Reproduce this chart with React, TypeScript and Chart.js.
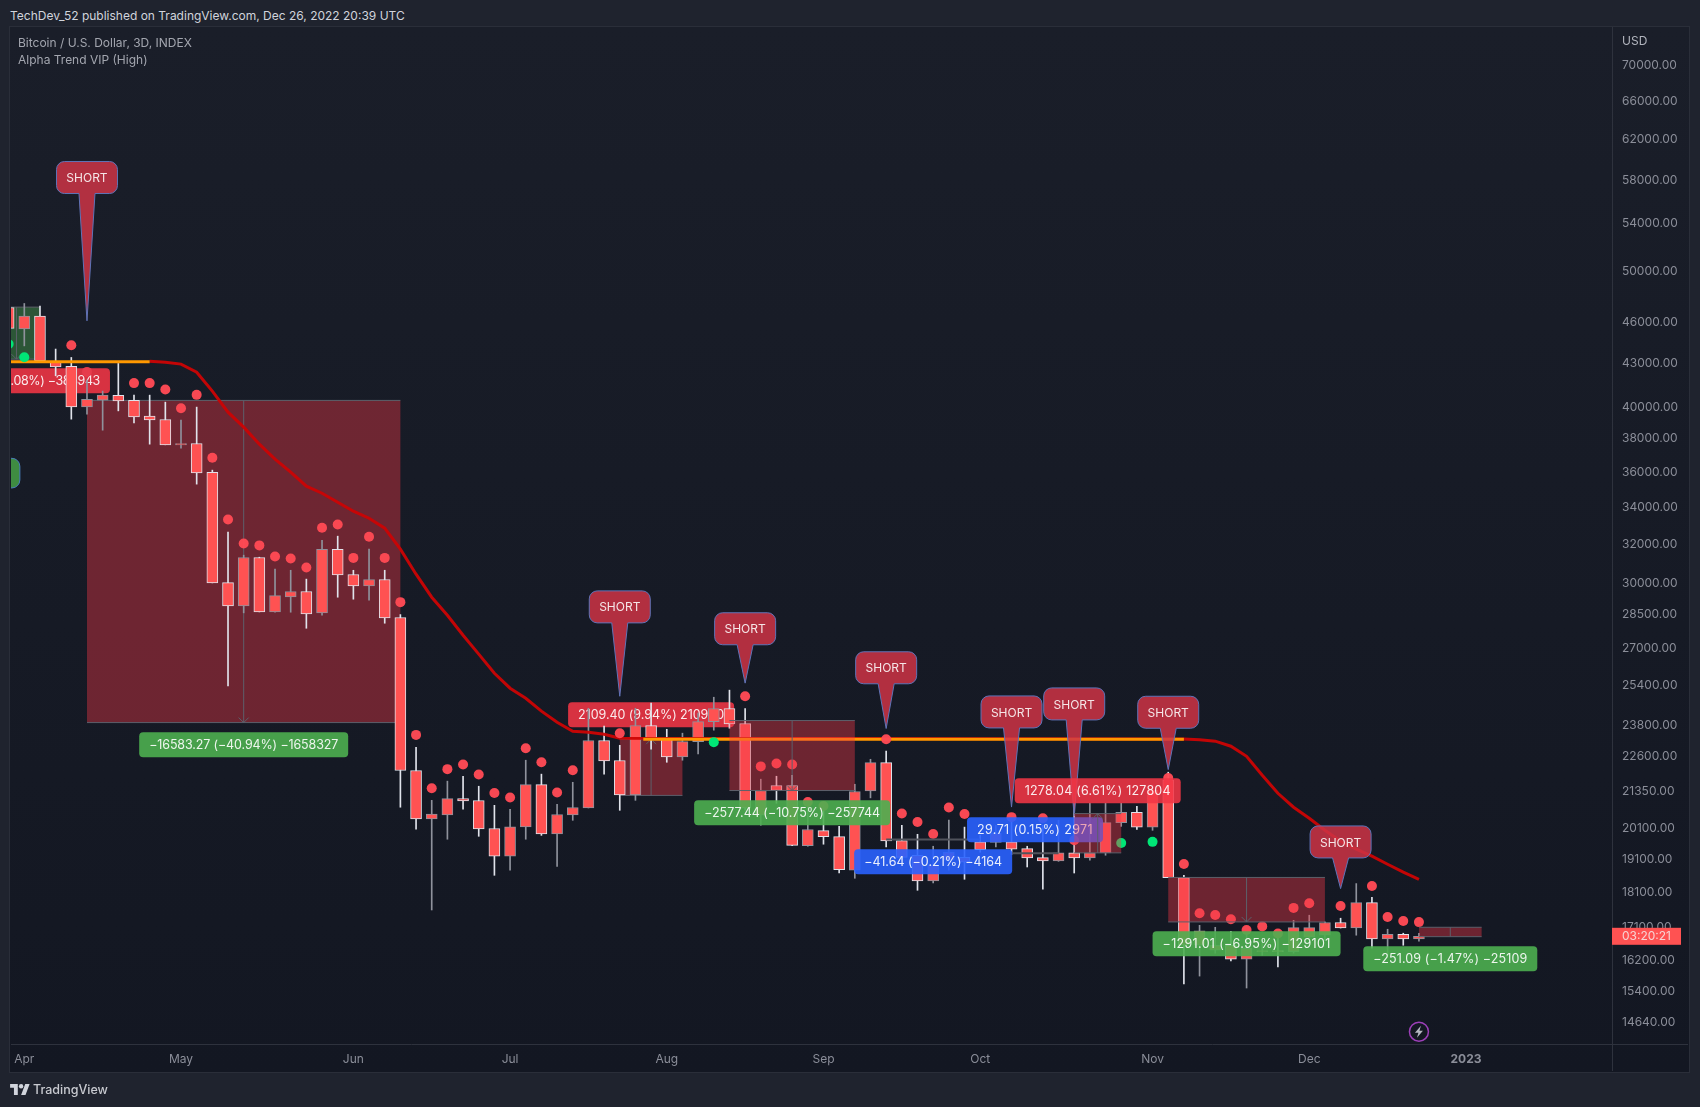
import React, { useEffect, useRef } from 'react';
import { Chart, registerables } from 'chart.js';

Chart.register(...registerables);
Chart.defaults.font.family = 'Inter, sans-serif';

// 3D candles, first one sits on bar -1 (cut by the left edge)
const firstBar = -1;
const opens = [47060, 45450, 46400, 43090, 42740, 40010, 40450, 40760, 40430, 39405, 39190, 37600, 37680, 35940, 30020, 28900, 31275, 28615, 29320, 29585, 28570, 31690, 30420, 29860, 30170, 28355, 22080, 20400, 20535, 21090, 21025, 20085, 19200, 20140, 21580, 19905, 20535, 20770, 23190, 22445, 21215, 23765, 23250, 22575, 23150, 23920, 24435, 23845, 20525, 21545, 21545, 19530, 20015, 19820, 18760, 21355, 22370, 19690, 19225, 18435, 19070, 19160, 19650, 19630, 19655, 19435, 19150, 19045, 19300, 19140, 19300, 20280, 20625, 20130, 21735, 18535, 16595, 16460, 16595, 16225, 16425, 16450, 16425, 16815, 16870, 17225, 17070, 17795, 16770, 16895, 16770];
const closes = [45480, 46400, 43130, 42710, 40010, 40495, 40780, 40400, 39360, 39165, 37600, 37680, 35915, 30005, 28900, 31275, 28615, 29390, 29585, 28520, 31690, 30400, 29860, 30170, 28340, 22080, 20400, 20560, 21090, 21010, 20070, 19200, 20140, 21580, 19905, 20550, 20785, 23190, 22430, 21215, 23765, 23250, 22575, 23150, 23920, 24435, 23830, 20760, 21370, 21370, 19540, 20050, 19820, 18780, 21335, 22370, 19680, 19160, 18435, 18915, 19320, 19005, 19405, 19930, 19415, 19140, 19045, 19300, 19140, 19300, 20280, 20625, 20130, 21380, 18535, 16595, 16990, 16595, 16225, 16515, 16450, 16425, 17080, 17080, 17225, 17070, 17795, 16770, 16895, 16770, 16840];
const highs = [47240, 47370, 47170, 43970, 43370, 41790, 41050, 42950, 40780, 40780, 40315, 39150, 39990, 36075, 32600, 31395, 31290, 30685, 30630, 30190, 32170, 32385, 30630, 31705, 30630, 28490, 22935, 21030, 21700, 21875, 21520, 20860, 20725, 22455, 21950, 20895, 21660, 24445, 23740, 23010, 24445, 24650, 23620, 23470, 24250, 24890, 25180, 24435, 21770, 21875, 21910, 21030, 20860, 20155, 21590, 22490, 22790, 20190, 19895, 19510, 20360, 20130, 19860, 20190, 20425, 19510, 20190, 20360, 20930, 20930, 20930, 20930, 20825, 21555, 22020, 18605, 17145, 17090, 16980, 16950, 16730, 16810, 17285, 17430, 17245, 17345, 18355, 17950, 17035, 16925, 16925];
const lows = [45350, 44200, 43130, 42090, 39210, 39535, 38510, 39745, 38970, 37640, 37600, 37395, 35260, 30005, 25355, 28570, 28615, 28600, 28600, 27860, 28460, 29310, 29215, 29170, 28090, 20795, 20060, 17580, 19735, 20725, 19830, 18605, 18760, 19735, 19860, 18880, 20355, 20770, 21950, 20690, 21030, 22860, 22380, 22455, 22685, 23585, 23660, 20700, 20190, 20930, 19530, 19510, 19575, 18675, 18515, 21115, 19490, 19070, 18155, 18375, 18760, 18485, 19320, 19490, 19255, 18860, 18185, 19035, 18675, 19070, 19225, 20155, 20050, 20025, 18535, 15580, 15780, 16380, 16175, 15475, 16325, 16015, 16380, 16730, 16730, 17070, 16870, 16515, 16325, 16595, 16705];

// Alpha Trend dots
const redDotBars = [3, 4, 7, 8, 9, 10, 11, 12, 13, 14, 15, 16, 17, 18, 19, 20, 21, 22, 23, 24, 25, 26, 27, 28, 29, 30, 31, 32, 33, 34, 35, 38, 46, 47, 48, 49, 50, 51, 55, 56, 57, 58, 59, 60, 63, 65, 67, 73, 74, 75, 76, 77, 78, 79, 80, 81, 82, 84, 86, 87, 88, 89];
const redDotValues = [44250, 42360, 41590, 41590, 41160, 39920, 40800, 36810, 33280, 32000, 31900, 31330, 31225, 30770, 32830, 33010, 31255, 32350, 31255, 29075, 23405, 21450, 22130, 22300, 21940, 21285, 21130, 22900, 22380, 21300, 22090, 23470, 24930, 22230, 22335, 22300, 20975, 20835, 23240, 20580, 20300, 19905, 20785, 20565, 20460, 20425, 19700, 21815, 18950, 17485, 17435, 17315, 17015, 17115, 16915, 17640, 17775, 17695, 18285, 17380, 17265, 17235];
const greenDotBars = [-1, 0, 44, 70, 72];
const greenDotValues = [44330, 43390, 23125, 19615, 19650];

// dark red average, flat under the orange level between bars 38 and 74
const smaBars = [8, 9, 10, 11, 12, 13, 14, 15, 16, 17, 18, 19, 20, 21, 22, 23, 24, 25, 26, 27, 28, 29, 30, 31, 32, 33, 34, 35, 36, 37, 38, 74, 75, 76, 77, 78, 79, 80, 81, 82, 83, 84, 85, 86, 87, 88, 89];
const smaValues = [43110, 43040, 42900, 42340, 41050, 39660, 38700, 37640, 36730, 35960, 35140, 34740, 34235, 33735, 33350, 32810, 31705, 30435, 29310, 28460, 27545, 26705, 25885, 25260, 24850, 24330, 23890, 23545, 23505, 23430, 23280, 23250, 23220, 23165, 22975, 22600, 21910, 21275, 20795, 20425, 20025, 19670, 19415, 19195, 18945, 18700, 18485];

const orangeLevelOne = [{ x: -0.85, y: 43060 }, { x: 8, y: 43060 }];
const orangeLevelTwo = [{ x: 39.5, y: 23240 }, { x: 74, y: 23240 }];

const priceTicks = [70000, 66000, 62000, 58000, 54000, 50000, 46000, 43000, 40000, 38000, 36000, 34000, 32000, 30000, 28500, 27000, 25400, 23800, 22600, 21350, 20100, 19100, 18100, 17100, 16200, 15400, 14640];
const monthBars = [0, 10, 21, 31, 41, 51, 61, 72, 82, 92];
const monthLabels = ['Apr', 'May', 'Jun', 'Jul', 'Aug', 'Sep', 'Oct', 'Nov', 'Dec', '2023'];

const RED_FILL = 'rgba(242,54,69,0.4)';
const GREEN_FILL = 'rgba(76,175,80,0.4)';

// position tools: bar range and price range
const boxesUnder = [
    { from: -2, to: 1, top: 47090, bottom: 43250, fill: GREEN_FILL, arrow: 'down' },
    { from: 4, to: 24, top: 40430, bottom: 23880, fill: RED_FILL, arrow: 'down' },
    { from: 38, to: 42, top: 23240, bottom: 21200, fill: RED_FILL, arrow: 'up' },
];
const boxesOver = [
    { from: 45, to: 53, top: 23960, bottom: 21370, fill: RED_FILL, arrow: 'down' },
    { from: 73, to: 83, top: 18540, bottom: 17240, fill: RED_FILL, arrow: 'down' },
    { from: 89, to: 93, top: 17090, bottom: 16830, fill: RED_FILL, arrow: '' },
];
const lastBox = { from: 67, to: 70, top: 20580, bottom: 19300, fill: RED_FILL, arrow: 'up' };
const flatTools = [
    { from: 55, to: 61, price: 19730 },
    { from: 63, to: 66, price: 19290 },
];

const GREEN_LABEL = 'rgba(76,175,80,0.9)';
const RED_LABEL = 'rgba(242,54,69,0.88)';
const BLUE_LABEL = 'rgba(41,98,255,0.9)';

const labelsUnder = [
    { text: '−3889.43 (−9.08%) −388943', bar: -0.5, price: 41755, width: 187, fill: RED_LABEL },
    { text: '2109.40 (9.94%) 210940', bar: 40, price: 24190, width: 166, fill: RED_LABEL },
];
const labelsBlue = [
    { text: '−41.64 (−0.21%) −4164', bar: 58, price: 19020, width: 158, fill: BLUE_LABEL },
    { text: '29.71 (0.15%) 2971', bar: 64.5, price: 20045, width: 136, fill: BLUE_LABEL },
];
const labelsTop = [
    { text: '−16583.27 (−40.94%) −1658327', bar: 14, price: 23030, width: 209, fill: GREEN_LABEL },
    { text: '−2577.44 (−10.75%) −257744', bar: 49, price: 20610, width: 196, fill: GREEN_LABEL },
    { text: '−1291.01 (−6.95%) −129101', bar: 78, price: 16635, width: 188, fill: GREEN_LABEL },
    { text: '−251.09 (−1.47%) −25109', bar: 91, price: 16235, width: 174, fill: GREEN_LABEL },
    { text: '1278.04 (6.61%) 127804', bar: 68.5, price: 21360, width: 166, fill: RED_LABEL },
];

// SHORT pins: tip and top of the bubble
const shortBars = [4, 38, 46, 55, 63, 67, 73, 84];
const shortTips = [46047, 24930, 25470, 23650, 20800, 20490, 22115, 18205];
const shortTops = [59740, 29615, 28575, 26810, 24943, 25272, 24930, 20169];

const longStub = { bar: -2.23, top: 36780, bottom: 35040 };
const boltBar = 89;
const boltPrice = 14410;
const lastPrice = 16840;

const roundedRect = (ctx: any, x: number, y: number, w: number, h: number, r: number) => {
    ctx.beginPath();
    ctx.roundRect(x, y, w, h, r);
};

const drawBox = (chart: any, box: any) => {
    const { ctx, scales } = chart;
    const left = scales.x.getPixelForValue(box.from);
    const right = scales.x.getPixelForValue(box.to);
    const top = scales.y.getPixelForValue(box.top);
    const bottom = scales.y.getPixelForValue(box.bottom);
    const mid = (left + right) / 2;
    ctx.fillStyle = box.fill;
    ctx.fillRect(left, top, right - left, bottom - top);
    ctx.strokeStyle = '#5d606b';
    ctx.lineWidth = 1;
    ctx.beginPath();
    ctx.moveTo(left, top);
    ctx.lineTo(right, top);
    ctx.moveTo(left, bottom);
    ctx.lineTo(right, bottom);
    ctx.moveTo(mid, top);
    ctx.lineTo(mid, bottom);
    if (box.arrow === 'down') {
        ctx.moveTo(mid - 5, bottom - 5);
        ctx.lineTo(mid, bottom);
        ctx.lineTo(mid + 5, bottom - 5);
    }
    if (box.arrow === 'up') {
        ctx.moveTo(mid - 5, top + 5);
        ctx.lineTo(mid, top);
        ctx.lineTo(mid + 5, top + 5);
    }
    ctx.stroke();
};

const drawLabel = (chart: any, label: any) => {
    const { ctx, scales } = chart;
    const cx = scales.x.getPixelForValue(label.bar);
    const cy = scales.y.getPixelForValue(label.price);
    ctx.font = '12.5px Inter, sans-serif';
    ctx.letterSpacing = '0px';
    // original font has wider digits, spread the text to the label's width
    const spread = (label.width - 20 - ctx.measureText(label.text).width) / label.text.length;
    ctx.fillStyle = label.fill;
    roundedRect(ctx, cx - label.width / 2, cy - 12.5, label.width, 25, 4);
    ctx.fill();
    ctx.fillStyle = 'rgba(255,255,255,0.9)';
    ctx.textAlign = 'center';
    ctx.textBaseline = 'middle';
    ctx.letterSpacing = `${spread}px`;
    ctx.fillText(label.text, cx, cy + 0.5);
    ctx.letterSpacing = '0px';
};

const drawShort = (chart: any, bar: number, tip: number, topPrice: number) => {
    const { ctx, scales } = chart;
    const cx = scales.x.getPixelForValue(bar);
    const tipY = scales.y.getPixelForValue(tip);
    const t = scales.y.getPixelForValue(topPrice);
    const b = t + 32;
    const l = cx - 30.5;
    const r = cx + 30.5;
    const rad = 8;
    ctx.beginPath();
    ctx.moveTo(l + rad, t);
    ctx.arcTo(r, t, r, b, rad);
    ctx.arcTo(r, b, l, b, rad);
    ctx.lineTo(cx + 8, b);
    ctx.lineTo(cx, tipY);
    ctx.lineTo(cx - 8, b);
    ctx.arcTo(l, b, l, t, rad);
    ctx.arcTo(l, t, r, t, rad);
    ctx.closePath();
    ctx.fillStyle = 'rgba(206,52,69,0.85)';
    ctx.fill();
    ctx.strokeStyle = '#5f74b8';
    ctx.lineWidth = 1;
    ctx.stroke();
    ctx.font = '12px Inter, sans-serif';
    ctx.fillStyle = 'rgba(255,255,255,0.88)';
    ctx.textAlign = 'center';
    ctx.textBaseline = 'middle';
    ctx.fillText('SHORT', cx, t + 17);
};

const drawingsPlugin = {
    id: 'drawings',
    beforeDatasetsDraw(chart: any) {
        const { ctx, chartArea, scales } = chart;
        ctx.save();
        ctx.beginPath();
        ctx.rect(chartArea.left, chartArea.top, chartArea.width, chartArea.height);
        ctx.clip();
        boxesUnder.forEach((box) => drawBox(chart, box));
        labelsUnder.forEach((label) => drawLabel(chart, label));
        // green pin cut by the left edge
        const stubX = scales.x.getPixelForValue(longStub.bar);
        const stubTop = scales.y.getPixelForValue(longStub.top);
        const stubBottom = scales.y.getPixelForValue(longStub.bottom);
        roundedRect(ctx, stubX - 30.5, stubTop, 61, stubBottom - stubTop, 8);
        ctx.fillStyle = 'rgba(70,160,70,0.85)';
        ctx.fill();
        ctx.strokeStyle = '#4a7ebb';
        ctx.lineWidth = 1;
        ctx.stroke();
        ctx.restore();
    },
    afterDatasetsDraw(chart: any) {
        const { ctx, chartArea, scales } = chart;
        ctx.save();
        ctx.beginPath();
        ctx.rect(chartArea.left, chartArea.top, chartArea.width, chartArea.height);
        ctx.clip();
        boxesOver.forEach((box) => drawBox(chart, box));
        flatTools.forEach((tool) => {
            const y = scales.y.getPixelForValue(tool.price);
            ctx.strokeStyle = '#50535c';
            ctx.lineWidth = 2;
            ctx.beginPath();
            ctx.moveTo(scales.x.getPixelForValue(tool.from), y);
            ctx.lineTo(scales.x.getPixelForValue(tool.to), y);
            ctx.stroke();
        });
        shortBars.forEach((bar, i) => drawShort(chart, bar, shortTips[i], shortTops[i]));
        labelsBlue.forEach((label) => drawLabel(chart, label));
        drawBox(chart, lastBox);
        labelsTop.forEach((label) => drawLabel(chart, label));

        // bolt icon
        const bx = scales.x.getPixelForValue(boltBar);
        const by = scales.y.getPixelForValue(boltPrice);
        ctx.strokeStyle = '#9c3fb8';
        ctx.lineWidth = 1.5;
        ctx.beginPath();
        ctx.arc(bx, by, 9.5, 0, Math.PI * 2);
        ctx.stroke();
        ctx.fillStyle = '#b5b8c2';
        ctx.beginPath();
        ctx.moveTo(bx + 2, by - 6);
        ctx.lineTo(bx - 4, by + 1);
        ctx.lineTo(bx - 0.5, by + 1);
        ctx.lineTo(bx - 2, by + 6);
        ctx.lineTo(bx + 4, by - 1);
        ctx.lineTo(bx + 0.5, by - 1);
        ctx.closePath();
        ctx.fill();
        ctx.restore();
    },
    afterDraw(chart: any) {
        const { ctx, chartArea, scales } = chart;
        const y = scales.y.getPixelForValue(lastPrice);
        ctx.save();
        ctx.fillStyle = '#ff5252';
        ctx.fillRect(chartArea.right, y - 8.5, 69, 17);
        ctx.font = '12px Inter, sans-serif';
        ctx.fillStyle = '#f7d3d3';
        ctx.textAlign = 'left';
        ctx.textBaseline = 'middle';
        ctx.fillText('03:20:21', chartArea.right + 10, y + 0.5);
        ctx.restore();
    },
};

const CandleChart: React.FC = () => {
    const chartRef = useRef<HTMLCanvasElement | null>(null);
    const chartInstanceRef = useRef<Chart | null>(null);

    useEffect(() => {
        if (chartRef.current) {
            const ctx = chartRef.current.getContext('2d');
            if (ctx) {
                const bars = opens.map((_, i) => i + firstBar);
                const edgeColors = opens.map((o, i) => (closes[i] >= o ? '#8f929c' : '#e0e3eb'));
                // the dot on bar 4 sits behind the red label
                const redDotColors = redDotBars.map((b) => (b === 4 ? '#e63c4c' : 'rgba(255,74,85,0.97)'));

                chartInstanceRef.current = new Chart(ctx, {
                    type: 'bar',
                    data: {
                        datasets: [
                            {
                                label: 'Wicks',
                                data: bars.map((x, i) => ({ x, y: [lows[i], highs[i]] })),
                                backgroundColor: edgeColors,
                                borderWidth: 0,
                                barThickness: 1,
                                grouped: false,
                                order: 6,
                            },
                            {
                                label: 'Bodies',
                                data: bars.map((x, i) => ({ x, y: [opens[i], closes[i]] })),
                                backgroundColor: '#ff5252',
                                borderColor: edgeColors,
                                borderWidth: 1,
                                borderSkipped: false,
                                barThickness: 11,
                                grouped: false,
                                order: 5,
                            },
                            {
                                type: 'line',
                                label: 'Average',
                                data: smaBars.map((x, i) => ({ x, y: smaValues[i] })),
                                borderColor: 'rgba(204,4,4,0.95)',
                                borderWidth: 3,
                                pointRadius: 0,
                                order: 4,
                            },
                            {
                                type: 'line',
                                label: 'Level 1',
                                data: orangeLevelOne,
                                borderColor: '#ff9800',
                                borderWidth: 3,
                                pointRadius: 0,
                                order: 3,
                            },
                            {
                                type: 'line',
                                label: 'Level 2',
                                data: orangeLevelTwo,
                                borderColor: '#ff9800',
                                borderWidth: 3,
                                pointRadius: 0,
                                order: 3,
                            },
                            {
                                type: 'line',
                                label: 'Sell dots',
                                data: redDotBars.map((x, i) => ({ x, y: redDotValues[i] })),
                                showLine: false,
                                pointRadius: 5,
                                pointBorderWidth: 0,
                                pointBackgroundColor: redDotColors,
                                order: 2,
                            },
                            {
                                type: 'line',
                                label: 'Buy dots',
                                data: greenDotBars.map((x, i) => ({ x, y: greenDotValues[i] })),
                                showLine: false,
                                pointRadius: 5,
                                pointBorderWidth: 0,
                                pointBackgroundColor: '#00e676',
                                order: 1,
                            },
                        ] as any,
                    },
                    options: {
                        responsive: false,
                        animation: false,
                        events: [],
                        layout: { padding: { left: 11, top: 27, right: 12, bottom: 36 } },
                        plugins: {
                            legend: { display: false },
                            tooltip: { enabled: false },
                        },
                        scales: {
                            x: {
                                type: 'linear',
                                offset: false,
                                min: -0.849,
                                max: 101.32,
                                grid: { display: false, drawTicks: false, offset: false },
                                border: { display: true, color: '#2e323d', width: 1 },
                                afterBuildTicks: (scale: any) => {
                                    scale.ticks = monthBars.map((value) => ({ value }));
                                },
                                afterFit: (scale: any) => {
                                    scale.height = 27;
                                },
                                ticks: {
                                    autoSkip: false,
                                    maxRotation: 0,
                                    padding: 8,
                                    color: '#8b8e99',
                                    font: (c: any) => ({
                                        size: 12,
                                        weight: c.tick && c.tick.value === 92 ? 'bold' : 'normal',
                                    }),
                                    callback: (value: any) => monthLabels[monthBars.indexOf(Number(value))],
                                },
                            },
                            y: {
                                type: 'logarithmic',
                                position: 'right',
                                min: 14122,
                                max: 74430,
                                grid: { display: false, drawTicks: false },
                                border: { display: true, color: '#2e323d', width: 1 },
                                afterBuildTicks: (scale: any) => {
                                    scale.ticks = priceTicks.map((value) => ({ value }));
                                },
                                afterFit: (scale: any) => {
                                    scale.width = 76;
                                },
                                ticks: {
                                    autoSkip: false,
                                    padding: 10,
                                    labelOffset: 0.5,
                                    color: '#8b8e99',
                                    font: { size: 12 },
                                    callback: (value: any) => Number(value).toFixed(2),
                                },
                            },
                        },
                    } as any,
                    plugins: [drawingsPlugin],
                });
            }
        }

        return () => {
            if (chartInstanceRef.current) {
                chartInstanceRef.current.destroy();
            }
        };
    }, []);

    const font = 'Inter, sans-serif';
    return (
        <div style={{ position: 'absolute', left: 0, top: 0, width: 1700, height: 1107, background: '#1f232e', fontFamily: font, overflow: 'hidden' }}>
            <div style={{ position: 'absolute', left: 10, top: 6, fontSize: 12, lineHeight: '20px', color: '#d1d4dc', whiteSpace: 'nowrap' }}>
                TechDev_52 published on TradingView.com, Dec 26, 2022 20:39 UTC
            </div>
            <div style={{ position: 'absolute', left: 9, top: 26, width: 1679, height: 1045, border: '1px solid #2a2e39', background: 'linear-gradient(#1a1e29, #131722)' }} />
            <div style={{ position: 'absolute', left: 1612, top: 1044, width: 1, height: 27, background: '#2e323d' }} />
            <div style={{ position: 'absolute', left: 1612, top: 1044, width: 76, height: 1, background: '#2e323d' }} />
            <canvas ref={chartRef} width={1700} height={1107} style={{ position: 'absolute', left: 0, top: 0, display: 'block' }}></canvas>
            <div style={{ position: 'absolute', left: 18, top: 34, fontSize: 12, lineHeight: '17px', color: '#a3a6af', whiteSpace: 'nowrap' }}>
                <div>Bitcoin / U.S. Dollar, 3D, INDEX</div>
                <div>Alpha Trend VIP (High)</div>
            </div>
            <div style={{ position: 'absolute', left: 1622, top: 32, fontSize: 12, lineHeight: '17px', color: '#b2b5be' }}>USD</div>
            <svg style={{ position: 'absolute', left: 10, top: 1084 }} width="20" height="11" viewBox="0 0 36 20">
                <path d="M14 20H7V7H0V0h14v20zM28 20h-8l7.5-20h8L28 20z" fill="#d1d4dc" />
                <circle cx="20" cy="4" r="4" fill="#d1d4dc" />
            </svg>
            <div style={{ position: 'absolute', left: 33, top: 1080, fontSize: 12.5, fontWeight: 500, lineHeight: '20px', color: '#c8cad0' }}>TradingView</div>
        </div>
    );
};

export default CandleChart;
